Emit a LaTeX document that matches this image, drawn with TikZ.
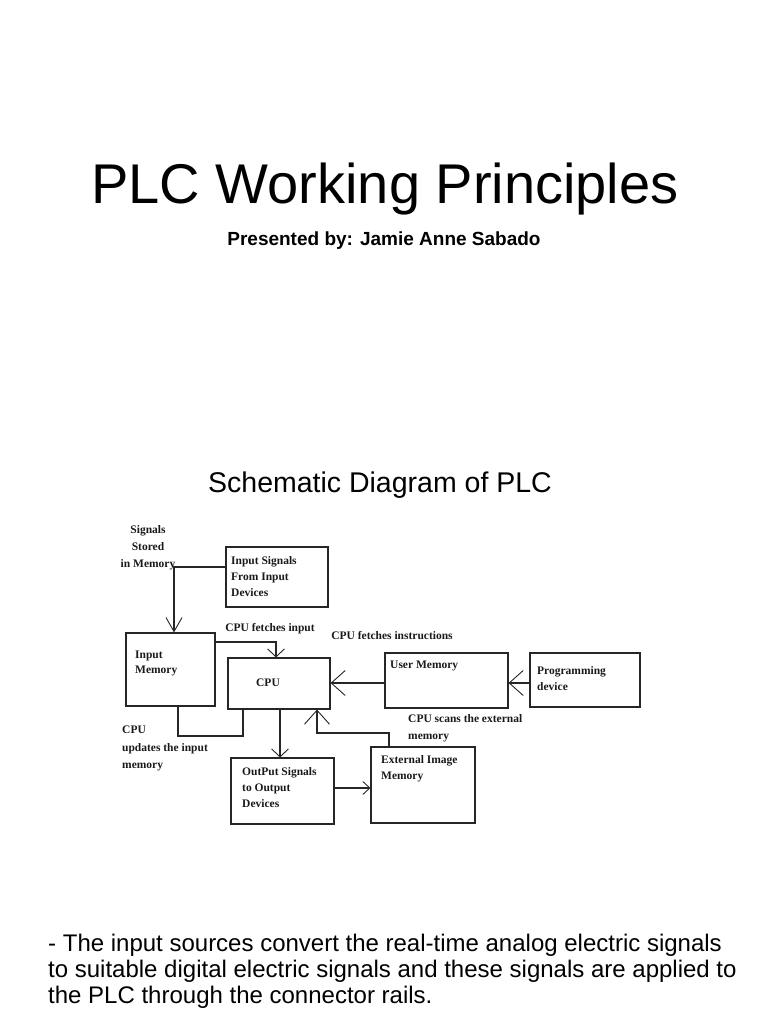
\documentclass[tikz,border=0pt]{standalone}
\usepackage{fontspec}
\setmainfont{Liberation Sans}
\newfontfamily\diagfont{Liberation Serif}
\usetikzlibrary{arrows.meta}
\begin{document}
\begin{tikzpicture}[x=1pt,y=-1pt,
  box/.style={draw=black!85, line width=1.1pt, inner sep=0pt},
  lbl/.style={font=\diagfont\bfseries\fontsize{11.5}{16}\selectfont, inner sep=0pt, align=left, text=black!90},
  wire/.style={draw=black!85, line width=1.1pt},
  arr/.style={wire, -{Straight Barb[length=8pt,width=17pt,line width=0.9pt]}},
  bigarr/.style={wire, -{Straight Barb[length=14pt,width=25pt,line width=0.9pt]}},
  tallarr/.style={wire, -{Straight Barb[length=14pt,width=16pt,line width=0.9pt]}},
  smallarr/.style={wire, -{Straight Barb[length=7pt,width=13pt,line width=0.9pt]}}]
\useasboundingbox (0,0) rectangle (768,1024);
% titles
\node[font=\fontsize{56}{60}\selectfont, inner sep=0pt] (title) at (385,189) {PLC Working Principles};
\node[font=\bfseries\fontsize{19}{22}\selectfont, inner sep=0pt] (sub) at (384,241) {Presented by: Jamie Anne Sabado};
\node[font=\fontsize{28.5}{32}\selectfont, inner sep=0pt] (schem) at (380,485) {Schematic Diagram of PLC};
% boxes
\node[box, minimum width=102pt, minimum height=60pt] (ins) at (277,577) {};
\node[box, minimum width=89pt, minimum height=73pt] (inm) at (170.5,669.5) {};
\node[box, minimum width=102pt, minimum height=51pt] (cpu) at (279,683.5) {};
\node[box, minimum width=123pt, minimum height=55pt] (usr) at (446.5,680.5) {};
\node[box, minimum width=110pt, minimum height=54pt] (prg) at (585,680) {};
\node[box, minimum width=103pt, minimum height=66pt] (out) at (282.5,791) {};
\node[box, minimum width=104pt, minimum height=76pt] (ext) at (423,785) {};
% box texts
\node[lbl, anchor=west] (ins-t) at (231,577) {Input Signals\\From Input\\Devices};
\node[lbl, anchor=west, font=\diagfont\bfseries\fontsize{11.5}{15}\selectfont] (inm-t) at (135,663.5) {Input\\Memory};
\node[lbl] (cpu-t) at (268,683) {CPU};
\node[lbl, anchor=west] (usr-t) at (390,666) {User Memory};
\node[lbl, anchor=west] (prg-t) at (537,678.5) {Programming\\device};
\node[lbl, anchor=west] (out-t) at (242,788) {OutPut Signals\\to Output\\Devices};
\node[lbl, anchor=west] (ext-t) at (381,769) {External Image\\Memory};
% labels
\node[lbl, align=center, font=\diagfont\bfseries\fontsize{11.5}{17}\selectfont] (sig-t) at (148,548) {Signals\\Stored\\in Memory};
\node[lbl] (fin-t) at (270,629) {CPU fetches input};
\node[lbl] (fins-t) at (392,636) {CPU fetches instructions};
\node[lbl, anchor=west, font=\diagfont\bfseries\fontsize{11.5}{17}\selectfont] (scn-t) at (408,728.5) {CPU scans the external\\memory};
\node[lbl, anchor=west, font=\diagfont\bfseries\fontsize{11.5}{17.5}\selectfont] (upd-t) at (122,748.5) {CPU\\updates the input\\memory};
% connector points
\coordinate (upd) at (243,736);
\coordinate (scn) at (317,733);
\coordinate (uw) at ([yshift=-2.5pt]usr.west);
\coordinate (pw) at ([yshift=-3pt]prg.west);
\coordinate (oe) at ([yshift=3pt]out.east);
% connectors
\draw[tallarr] ([yshift=10pt]ins.west) -| ([xshift=3.5pt]inm.north);
\draw[arr] ([yshift=27.5pt]inm.east) -| ([xshift=-3pt]cpu.north);
\draw[wire] ([xshift=7.5pt]inm.south) |- (upd) -- ([xshift=-36pt]cpu.south);
\draw[arr] ([xshift=1pt]cpu.south) -- ([xshift=1pt]cpu.south |- out.north);
\draw[bigarr] (uw) -- (cpu.east |- uw);
\draw[bigarr] (pw) -- (usr.east |- pw);
\draw[bigarr] ([xshift=-34pt]ext.north) |- (scn) -- ([xshift=38pt]cpu.south);
\draw[smallarr] (oe) -- (ext.west |- oe);
% bottom text
\node[font=\fontsize{24}{26}\selectfont, inner sep=0pt, align=left, anchor=west] (body) at (48,971) {- The input sources convert the real-time analog electric signals\\to suitable digital electric signals and these signals are applied to\\the PLC through the connector rails.};
\end{tikzpicture}
\end{document}
